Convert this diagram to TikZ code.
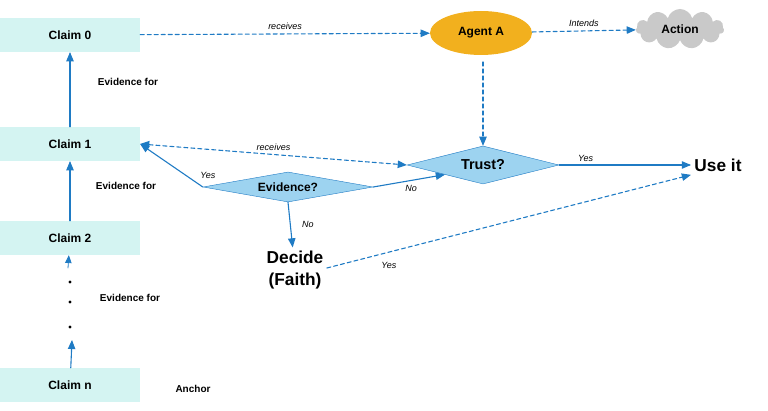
\documentclass[tikz,border=0pt]{standalone}
\usepackage{fontspec}
\setmainfont{Liberation Sans}
\usetikzlibrary{arrows,shapes.geometric,shapes.symbols}
\definecolor{lineblue}{HTML}{1F7BC4}
\definecolor{claimfill}{HTML}{D4F4F2}
\definecolor{agentfill}{HTML}{F2B01E}
\definecolor{diafill}{HTML}{9DD3F0}
\definecolor{cloudfill}{HTML}{C9C9C9}
\tikzset{
  claim/.style={fill=claimfill,minimum width=140pt,minimum height=34pt,font=\bfseries\large,inner sep=0pt},
  dia/.style={diamond,draw=lineblue,fill=diafill,aspect=5,inner sep=1pt,font=\bfseries},
  lbl/.style={font=\small\itshape,text=black},
  con/.style={lineblue,line width=1.1pt,-triangle 45},
  dcon/.style={con,dash pattern=on 4pt off 3pt}
}
\begin{document}
\begin{tikzpicture}[line cap=round,line join=round,x=1pt,y=-1pt]
    \useasboundingbox (0,0) rectangle (768,411);
    % claims
    \node[claim] (c0) at (70,35) {Claim 0};
    \node[claim] (c1) at (70,144) {Claim 1};
    \node[claim] (c2) at (70,238) {Claim 2};
    \node[claim] (cn) at (70,385) {Claim n};
    \node[fill=black,circle,inner sep=1.2pt] (d1) at (70,282) {};
    \node[fill=black,circle,inner sep=1.2pt] (d2) at (70,302) {};
    \node[fill=black,circle,inner sep=1.2pt] (d3) at (70,327) {};
    \coordinate (ctop) at (72,340);
    \coordinate (c2low) at (68,268);
    \draw[con] (c1) -- (c0);
    \draw[con] (c2) -- (c1);
    \draw[con] (cn) -- (ctop);
    \draw[con,line width=0.8pt] (c2low) -- (c2);
    \node[font=\bfseries] at (128,82) {Evidence for};
    \node[font=\bfseries] at (126,186) {Evidence for};
    \node[font=\bfseries] at (130,298) {Evidence for};
    \node[font=\bfseries] at (193,389) {Anchor};
    % agent side
    \node[ellipse,fill=agentfill,minimum width=102pt,minimum height=44pt,font=\bfseries\large] (agent) at (481,33) {Agent A};
    \node[cloud,cloud puffs=11,aspect=2.2,fill=cloudfill,minimum width=88pt,minimum height=40pt,font=\bfseries\large,inner sep=0pt] (act) at (680,29) {Action};
    \node[dia,minimum width=152pt,minimum height=38pt,font=\bfseries\Large] (trust) at (483,165) {Trust?};
    \node[dia,minimum width=170pt,minimum height=30pt,font=\bfseries\large] (evid) at (288,187) {Evidence?};
    \node[font=\bfseries\LARGE] (use) at (718,165) {Use it};
    \node[font=\bfseries\LARGE,align=center] (dec) at (295,270) {Decide\\(Faith)};
    \coordinate (agentlow) at (483,62);
    % connectors
    \draw[dcon] (c0) -- node[lbl,above] {receives} (agent);
    \draw[dcon] (agent) -- node[lbl,above] {Intends} (act);
    \draw[dcon] (agentlow) -- (trust.north);
    \draw[dcon,triangle 45-triangle 45] (c1.east) -- node[lbl,above,pos=0.5] {receives} (trust.west);
    \draw[con] (trust.east) -- node[lbl,above,pos=0.2] {Yes} (use);
    \draw[con] (evid.west) -- node[lbl,above right,pos=0.1] {Yes} (c1.east);
    \draw[con] (evid.east) -- (trust.south west);
    \node[lbl] at (411,188) {No};
    \draw[con] (evid.south) -- node[lbl,right,xshift=8pt] {No} (dec);
    \draw[dcon] (dec.east) ++(0,-2) -- node[lbl,below,pos=0.17,yshift=-6pt] {Yes} (use.south west);
\end{tikzpicture}
\end{document}
